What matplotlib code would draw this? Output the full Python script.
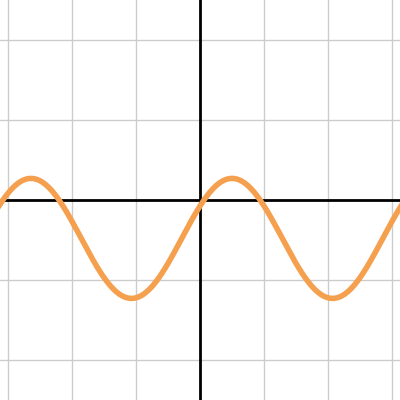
import numpy as np
import matplotlib
matplotlib.use("Agg")
import matplotlib.pyplot as plt

amplitude = 0.75
frequency = 2.0
phase = 0.57
offset = -0.48
x_ticks = [-3, -2, -1, 1, 2, 3]
y_ticks = [-2, -1, 1, 2]

fig = plt.figure(figsize=(4, 4), dpi=100)
ax = fig.add_axes([0, 0, 1, 1])
ax.set_xlim(-3.125, 3.125)
ax.set_ylim(-2.5, 2.5)
for t in x_ticks:
    ax.axvline(t, color="#cccccc", lw=1, zorder=0)
for t in y_ticks:
    ax.axhline(t, color="#cccccc", lw=1, zorder=0)
ax.axhline(0, color="black", lw=2, zorder=1)
ax.axvline(0, color="black", lw=2, zorder=1)
x = np.linspace(-3.2, 3.2, 800)
y = amplitude * np.sin(frequency * x + phase) + offset
ax.plot(x, y, color="#f5a04f", lw=4, zorder=2)
ax.axis("off")
fig.savefig("out.png", dpi=100)
